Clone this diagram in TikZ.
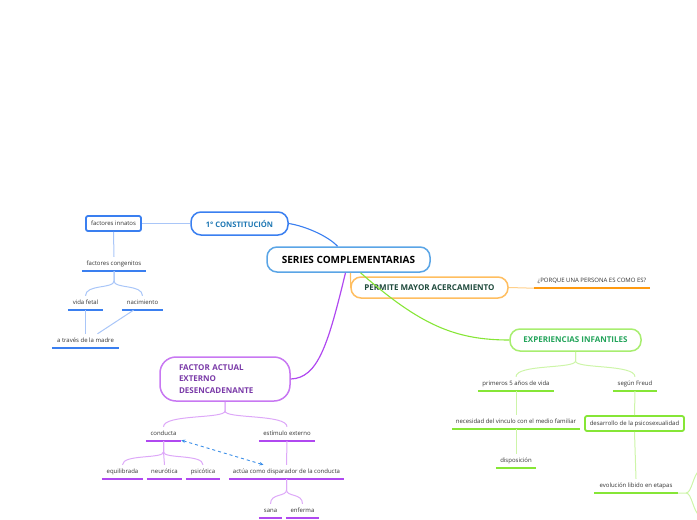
\documentclass[tikz,border=0pt]{standalone}
\usepackage{fontspec}
\setmainfont{Open Sans}
\usetikzlibrary{arrows.meta,calc}
\definecolor{cblue}{HTML}{3A7FF0}
\definecolor{cblueL}{HTML}{A9C6F8}
\definecolor{cblueT}{HTML}{1F78B4}
\definecolor{ccent}{HTML}{5AA5E6}
\definecolor{cpur}{HTML}{B048F0}
\definecolor{cpurB}{HTML}{C878F2}
\definecolor{cpurL}{HTML}{DDA8F8}
\definecolor{cpurT}{HTML}{7A3AA8}
\definecolor{corg}{HTML}{FF9A10}
\definecolor{corgB}{HTML}{FFBE60}
\definecolor{corgL}{HTML}{FFD08A}
\definecolor{cgrn}{HTML}{86E636}
\definecolor{cgrnB}{HTML}{A8EE70}
\definecolor{cgrnL}{HTML}{CDF5A8}
\definecolor{cgrnT}{HTML}{22A45A}
\definecolor{cdkT}{HTML}{1F4A3C}
\definecolor{cdash}{HTML}{3A8EE8}
\tikzset{
  leaf/.style={inner sep=0pt, minimum height=14pt, minimum width=#1,
    font=\fontsize{6}{7}\selectfont, text=black!80, text height=4.4pt, text depth=1.3pt},
  ulblue/.style={draw=cblue, line width=2pt},
  ulpur/.style={draw=cpur, line width=2pt},
  ulorg/.style={draw=corg, line width=2pt},
  ulgrn/.style={draw=cgrn, line width=2pt},
  mainbox/.style={draw, fill=white, rounded corners=10pt, line width=1.5pt, inner sep=0pt,
    font=\bfseries\fontsize{7.6}{9}\selectfont},
  smallbox/.style={draw, fill=white, rounded corners=2pt, line width=1.8pt, inner sep=0pt,
    font=\fontsize{6}{7}\selectfont, text=black!80},
  cb/.style={draw=cblueL, line width=1pt},
  cp/.style={draw=cpurL, line width=1pt},
  cg/.style={draw=cgrnL, line width=1pt},
}
\begin{document}
\begin{tikzpicture}[x=1pt,y=-1pt]
\useasboundingbox (0,0) rectangle (697,520);
\clip (0,0) rectangle (697,520);
% main boxes
\node[mainbox, draw=ccent, minimum width=163pt, minimum height=25pt, font=\bfseries\fontsize{10}{11}\selectfont, text=black] (central) at (348.5,259.5) {SERIES COMPLEMENTARIAS};
\node[mainbox, draw=cblue, minimum width=97pt, minimum height=23pt, text=cblueT] (constit) at (239.5,223.5) {1° CONSTITUCIÓN};
\node[smallbox, draw=cblue, minimum width=55pt, minimum height=15pt] (innatos) at (113.5,223.5) {factores innatos};
\node[mainbox, draw=corgB, minimum width=157pt, minimum height=21pt, text=cdkT, font=\bfseries\fontsize{8}{9}\selectfont] (permite) at (429.5,287.5) {PERMITE MAYOR ACERCAMIENTO};
\node[mainbox, draw=cgrnB, minimum width=131pt, minimum height=22pt, text=cgrnT, font=\bfseries\fontsize{8}{9}\selectfont] (exper) at (575.5,340) {EXPERIENCIAS INFANTILES};
\node[mainbox, draw=cpurB, minimum width=130pt, minimum height=44pt, rounded corners=16pt, text=cpurT, align=left, font=\bfseries\fontsize{8}{11.5}\selectfont, text width=92pt] (factor) at (225,379) {FACTOR ACTUAL\\EXTERNO\\DESENCADENANTE};
\node[smallbox, draw=cgrn, minimum width=99pt, minimum height=15pt] (desarr) at (634.5,423.5) {desarrollo de la psicosexualidad};
% leaves
\node[leaf=64pt] (fcong) at (114,264) {factores congenitos};
\node[leaf=35pt] (vfetal) at (85.5,303) {vida fetal};
\node[leaf=41pt] (nacim) at (142.5,303) {nacimiento};
\node[leaf=67pt] (atraves) at (85.5,341) {a través de la madre};
\node[leaf=35pt] (conducta) at (163.5,434) {conducta};
\node[leaf=56pt] (estimulo) at (287,434) {estímulo externo};
\node[leaf=41pt] (equil) at (122.5,472) {equilibrada};
\node[leaf=35pt] (neuro) at (164.5,472) {neurótica};
\node[leaf=34pt] (psico) at (203,472) {psicótica};
\node[leaf=115pt] (actua) at (286.5,472) {actúa como disparador de la conducta};
\node[leaf=23pt] (sana) at (270.5,511) {sana};
\node[leaf=33pt] (enferma) at (302.5,511) {enferma};
\node[leaf=116pt] (porque) at (592,281) {¿PORQUE UNA PERSONA ES COMO ES?};
\node[leaf=76pt] (primeros) at (516,384) {primeros 5 años de vida};
\node[leaf=44pt] (segun) at (635,384) {según Freud};
\node[leaf=128pt] (necesidad) at (516,422) {necesidad del vinculo con el medio familiar};
\node[leaf=40pt] (dispos) at (516,461) {disposición};
\node[leaf=84pt] (evol) at (636,486) {evolución libido en etapas};
% underlines
\foreach \n in {fcong,vfetal,nacim,atraves}{\draw[ulblue] (\n.south west) -- (\n.south east);}
\foreach \n in {conducta,estimulo,equil,neuro,psico,actua,sana,enferma}{\draw[ulpur] (\n.south west) -- (\n.south east);}
\foreach \n in {primeros,segun,necesidad,dispos,evol}{\draw[ulgrn] (\n.south west) -- (\n.south east);}
\draw[ulorg] (porque.south west) -- (porque.south east);
% main connectors
\draw[draw=cblue, line width=1.1pt] (constit.east) .. controls (305,226) and (328,236) .. ([xshift=-11pt]central.north);
\draw[draw=corgB, line width=1.1pt] ([xshift=2pt]central.south) .. controls (350.5,284) and (351,288) .. (permite.west);
\draw[draw=cgrn, line width=1.1pt] ([xshift=12pt]central.south) .. controls (420,325) and (455,340) .. (exper.west);
\draw[draw=cpur, line width=1.2pt] ([xshift=-3pt]central.south) .. controls (328,345) and (318,378) .. (factor.east);
% blue subtree
\draw[cb, line width=1.5pt] (innatos.east) -- (constit.west);
\draw[cb] (innatos.south) -- (fcong.north);
\draw[cb] (fcong.south) -- (114,281) .. controls (114,289) and (85.5,284) .. (vfetal.north);
\draw[cb] (fcong.south) -- (114,281) .. controls (114,289) and (142.5,284) .. (nacim.north);
\draw[cb] (vfetal.south) -- (atraves.north);
\draw[cb] ([xshift=-9pt]nacim.south) -- ([xshift=12pt]atraves.north);
% orange
\draw[draw=corgL, line width=1pt] (permite.east) -- (porque.south west);
% purple subtree
\draw[cp] (factor.south) -- (225,411) .. controls (225,419) and (163.5,414) .. (conducta.north);
\draw[cp] (factor.south) -- (225,411) .. controls (225,419) and (287,414) .. (estimulo.north);
\draw[cp] (conducta.south) -- (163.5,452) .. controls (163.5,459) and (122.5,454) .. (equil.north);
\draw[cp] (conducta.south) -- (163.5,452) .. controls (163.5,459) and (164.5,458) .. (neuro.north);
\draw[cp] (conducta.south) -- (163.5,452) .. controls (163.5,459) and (203,454) .. (psico.north);
\draw[cp] (estimulo.south) -- (actua.north);
\draw[cp] (actua.south) -- (286.5,490) .. controls (286.5,497) and (270.5,493) .. (sana.north);
\draw[cp] (actua.south) -- (286.5,490) .. controls (286.5,497) and (302.5,493) .. (enferma.north);
\draw[draw=cdash, line width=0.9pt, dashed, {Stealth[length=4pt,width=3.5pt]}-{Stealth[length=4pt,width=3.5pt]}] ([yshift=1pt]conducta.south east) -- ([xshift=-23pt]actua.north);
% green subtree
\draw[cg] (exper.south) -- (575.5,361) .. controls (575.5,369) and (516,364) .. (primeros.north);
\draw[cg] (exper.south) -- (575.5,361) .. controls (575.5,369) and (635,364) .. (segun.north);
\draw[cg] (primeros.south) -- (necesidad.north);
\draw[cg] (necesidad.south) -- (dispos.north);
\draw[cg] (segun.south) -- (desarr.north);
\draw[cg] (desarr.south) -- (evol.north);
\coordinate (e0) at (686,493);
\coordinate (e1) at (700,470);
\coordinate (e2) at (700,516);
\draw[cg] (evol.south east) -- (e0);
\draw[cg] (e0) .. controls (692,493) and (693,474) .. (e1);
\draw[cg] (e0) .. controls (692,493) and (693,512) .. (e2);
\end{tikzpicture}
\end{document}
